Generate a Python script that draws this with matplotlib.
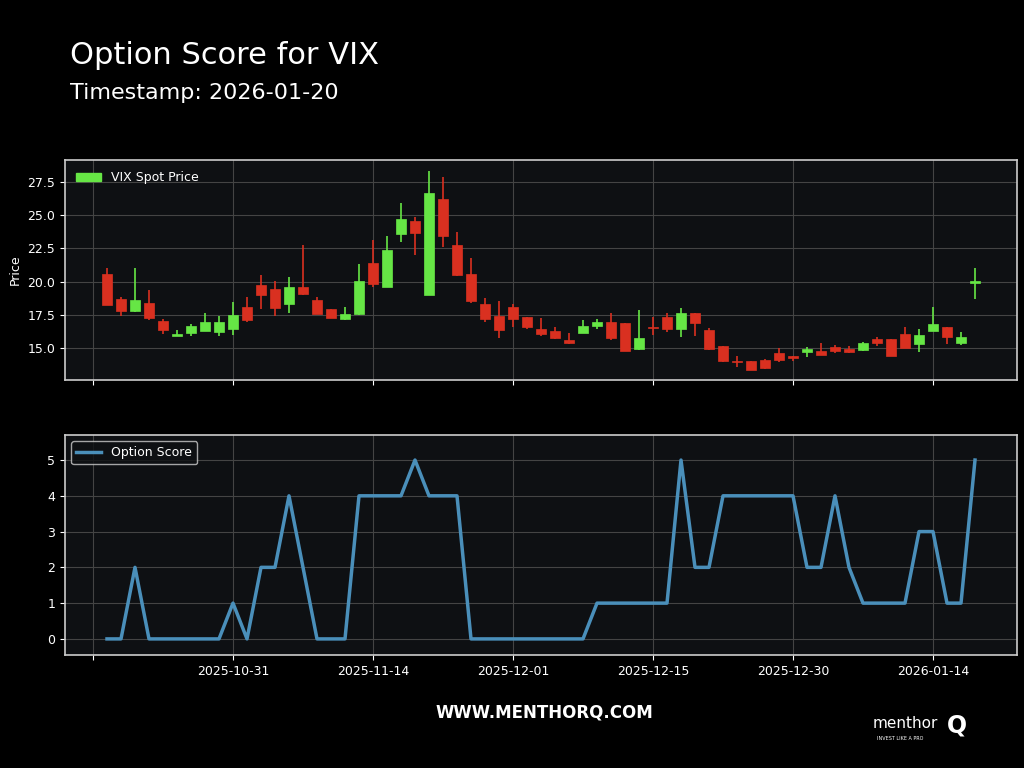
import matplotlib
matplotlib.use("Agg")
import matplotlib.pyplot as plt
from matplotlib.patches import Patch

opens  = [20.57,18.71,17.81,18.41,17.03,15.93,16.13,16.30,16.23,16.40,18.11,19.77,19.42,18.33,19.60,18.61,17.96,17.16,17.56,21.38,
          19.57,23.56,24.59,18.98,26.20,22.73,20.60,18.28,17.43,18.08,17.31,16.45,16.25,15.60,16.10,16.63,16.96,16.86,14.95,16.53,
          17.31,16.40,17.63,16.33,15.14,14.06,14.03,14.08,14.66,14.38,14.71,14.81,15.11,14.96,14.88,15.66,15.66,16.03,15.31,16.30,
          16.55,15.36,19.90]
closes = [18.21,17.81,18.61,17.26,16.33,16.03,16.68,16.96,16.93,17.48,17.11,18.96,18.03,19.57,19.04,17.58,17.26,17.56,20.07,19.82,
          22.40,24.74,23.69,26.70,23.46,20.49,18.56,17.18,16.33,17.21,16.55,16.05,15.75,15.40,16.68,16.93,15.73,14.80,15.75,16.50,
          16.45,17.63,16.86,14.90,14.01,13.93,13.38,13.51,14.10,14.28,14.91,14.46,14.81,14.68,15.36,15.36,14.38,15.03,15.96,16.80,
          15.86,15.81,20.05]
highs  = [21.02,18.86,21.02,19.37,17.21,16.33,16.78,17.61,17.41,18.50,18.86,20.50,20.02,20.32,22.74,18.86,17.96,18.06,21.33,23.10,
          23.40,25.90,24.84,28.30,27.90,23.72,21.76,18.74,18.53,18.31,17.31,17.28,16.60,16.15,17.08,17.18,17.63,16.86,17.86,17.36,
          17.61,18.03,17.63,16.53,15.14,14.39,14.03,14.18,15.01,14.38,15.11,15.36,15.23,15.13,15.43,15.81,15.66,16.60,16.43,18.11,
          16.55,16.20,21.00]
lows   = [18.21,17.41,17.73,17.11,16.03,15.88,15.88,16.25,15.90,16.00,16.98,17.91,17.39,17.61,19.00,17.53,17.26,17.11,17.51,19.57,
          19.57,22.96,21.98,19.30,22.58,20.42,18.41,16.93,15.78,16.60,16.40,15.93,15.68,15.28,16.10,16.45,15.60,14.80,14.85,15.98,
          16.23,15.85,15.93,14.85,13.96,13.61,13.33,13.46,13.96,14.01,14.31,14.46,14.61,14.61,14.76,15.13,14.38,14.98,14.68,16.25,
          15.28,15.23,18.66]
scores = [0,0,2,0,0,0,0,0,0,1,0,2,2,4,2,0,0,0,4,4,4,4,5,4,4,4,0,0,0,0,0,0,0,0,0,1,1,1,1,1,1,5,2,2,4,4,4,4,4,4,2,2,4,2,1,1,1,1,3,3,1,1,5]
tick_pos = [-1,9,19,29,39,49,59]
tick_labels = ["","2025-10-31","2025-11-14","2025-12-01","2025-12-15","2025-12-30","2026-01-14"]

GREEN = "#66e645"; RED = "#d93020"; BG = "#0e1013"
fig = plt.figure(figsize=(10.24,7.68), dpi=100, facecolor="black")
ax1 = fig.add_axes([65/1024, 1-380/768, 952/1024, 220/768])
ax2 = fig.add_axes([65/1024, 1-655/768, 952/1024, 220/768])
for ax in (ax1, ax2):
    ax.set_facecolor(BG)
    for s in ax.spines.values():
        s.set_color("#cccccc"); s.set_linewidth(1.2)
    ax.tick_params(colors="white", labelsize=9)
    ax.grid(True, color="#444444", linewidth=0.8)
    ax.set_xlim(-3, 65)
    ax.set_xticks(tick_pos)

n = len(opens)
for i in range(n):
    c = GREEN if closes[i] >= opens[i] else RED
    ax1.vlines(i, lows[i], highs[i], color=c, linewidth=1.2, zorder=2)
    b = min(opens[i], closes[i]); h = max(abs(closes[i]-opens[i]), 0.12)
    ax1.bar(i, h, bottom=b, width=0.65, color=c, edgecolor=c, linewidth=0.5, zorder=3)
ax1.set_ylim(12.6, 29.15)
ax1.set_yticks([15,17.5,20,22.5,25,27.5])
ax1.set_xticklabels([])
ax1.set_ylabel("Price", color="white", fontsize=9)
ax1.legend(handles=[Patch(color=GREEN, label="VIX Spot Price")], loc="upper left",
           frameon=False, fontsize=9, labelcolor="white")

ax2.plot(range(n), scores, color="#4a8fba", linewidth=2.5, label="Option Score", zorder=3)
ax2.set_ylim(-0.45, 5.7)
ax2.set_yticks([0,1,2,3,4,5])
ax2.set_xticklabels(tick_labels)
ax2.legend(loc="upper left", fontsize=9, facecolor=BG, edgecolor="#cccccc", labelcolor="white")

fig.text(70/1024, 1-55/768, "Option Score for VIX", color="white", fontsize=22, va="center")
fig.text(70/1024, 1-93/768, "Timestamp: 2026-01-20", color="white", fontsize=16, va="center")
fig.text(544/1024, 1-712/768, "WWW.MENTHORQ.COM", color="white", fontsize=12, fontweight="bold", ha="center", va="center")
fig.text(905/1024, 1-724/768, "menthor", color="white", fontsize=11, ha="center", va="center")
fig.text(957/1024, 1-726/768, "Q", color="white", fontsize=17, fontweight="bold", ha="center", va="center")
fig.text(900/1024, 1-738/768, "INVEST LIKE A PRO", color="white", fontsize=3.5, ha="center", va="center")
fig.savefig("out.png", dpi=100, facecolor="black")
